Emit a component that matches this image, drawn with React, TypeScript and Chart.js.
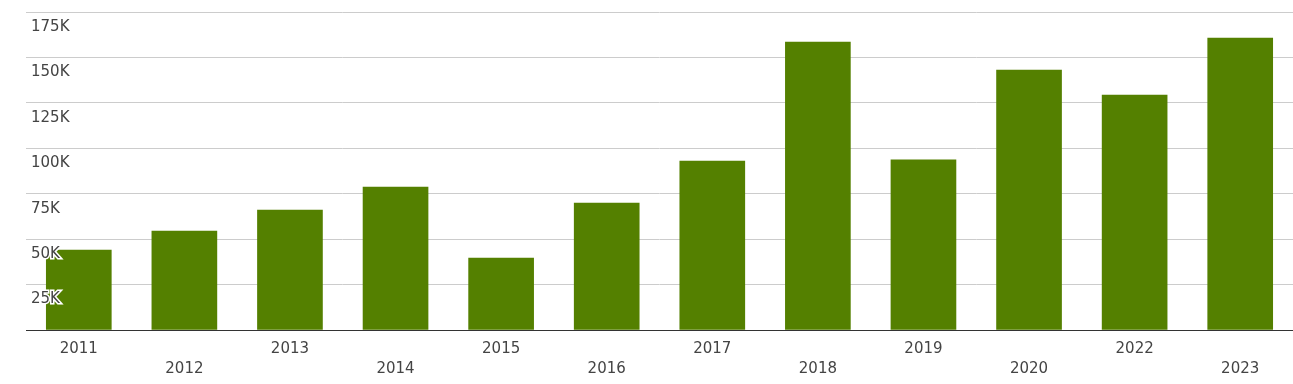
import React, { useEffect, useRef } from "react";
import { Chart, registerables } from "chart.js";

Chart.register(...registerables);

const years = ["2011", "2012", "2013", "2014", "2015", "2016", "2017", "2018", "2019", "2020", "2022", "2023"];
const values = [44000, 54500, 66000, 78700, 39600, 69900, 93000, 158500, 93600, 143100, 129300, 160700];
const yTicks = [0, 25000, 50000, 75000, 100000, 125000, 150000, 175000];

const FONT = "'DejaVu Sans', sans-serif";

export default function App() {
  const ref = useRef<HTMLCanvasElement | null>(null);
  useEffect(() => {
    document.body.style.margin = "0";
    const ctx = ref.current!;
    const chart = new Chart(ctx, {
      type: "bar",
      data: {
        labels: years,
        datasets: [
          {
            data: values,
            backgroundColor: "#548000",
            borderWidth: 0,
            barThickness: 65,
          },
        ],
      },
      options: {
        animation: false,
        responsive: false,
        maintainAspectRatio: false,
        layout: { padding: { left: 16, top: 12, right: 0, bottom: -4 } },
        plugins: { legend: { display: false }, tooltip: { enabled: false } },
        scales: {
          x: {
            grid: { display: false, drawTicks: false },
            border: { display: true, color: "#333", width: 1 },
            ticks: {
              autoSkip: false,
              maxRotation: 0,
              minRotation: 0,
              padding: 9,
              color: "#444",
              font: { family: FONT, size: 15, lineHeight: 1.333 },
              callback: (_v: any, i: number) => (i % 2 === 1 ? ["", years[i]] : [years[i], ""]),
            },
          },
          y: {
            min: 0,
            max: 175000,
            position: "left",
            grid: { color: "#ccc", drawTicks: false, lineWidth: 1 },
            border: { display: false },
            afterBuildTicks: (s: any) => {
              s.ticks = yTicks.map((v) => ({ value: v }));
            },
            afterFit: (s: any) => {
              s.paddingTop = 0;
              s.paddingBottom = 0;
            },
            ticks: {
              z: 1,
              mirror: true,
              padding: 5,
              labelOffset: 15,
              color: "#444",
              textStrokeColor: "#fff",
              textStrokeWidth: 3,
              font: { family: FONT, size: 15 },
              callback: (v: any) => (Number(v) === 0 ? "" : Math.round(Number(v) / 1000) + "K"),
            },
          },
        },
      },
    });
    return () => chart.destroy();
  }, []);
  return <canvas ref={ref} width={1293} height={384} style={{ display: "block" }} />;
}
